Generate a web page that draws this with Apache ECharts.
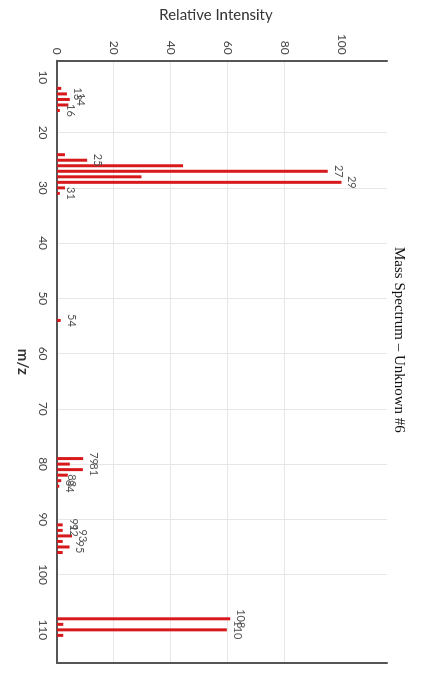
<!DOCTYPE html>
<html>
<head>
<meta charset="utf-8">
<script src="https://cdn.jsdelivr.net/npm/echarts@6/dist/echarts.min.js"></script>
<style>
  html, body { margin: 0; padding: 0; background: #ffffff; }
  #wrap { position: relative; width: 435px; height: 700px; overflow: hidden; background: #fff; }
  #chart { position: absolute; left: 435px; top: 0; width: 700px; height: 435px;
           transform-origin: 0 0; transform: rotate(90deg); }
</style>
</head>
<body>
<div id="wrap"><div id="chart"></div></div>
<script>
// m/z values of the peaks
var mzValues = [12, 13, 14, 15, 16, 24, 25, 26, 27, 28, 29, 30, 31, 54,
                79, 80, 81, 82, 83, 84, 91, 92, 93, 94, 95, 96, 108, 109, 110, 111];
// relative intensities (%)
var intensities = [1.5, 3.5, 4.5, 4.0, 1.0, 2.8, 10.6, 44.3, 95.2, 29.7, 100, 2.8, 1.0, 1.3,
                   9.2, 4.5, 9.1, 3.8, 1.5, 0.8, 2.0, 2.0, 5.3, 2.0, 4.4, 2.0, 60.9, 2.2, 59.7, 2.2];
// peaks that carry an m/z label
var labeledMz = [13, 14, 16, 25, 27, 29, 31, 54, 79, 81, 83, 84, 91, 92, 93, 95, 108, 110];
// tick labels
var mzTicks = [10, 20, 30, 40, 50, 60, 70, 80, 90, 100, 110];
var intensityTicks = [0, 20, 40, 60, 80, 100];

var chart = echarts.init(document.getElementById('chart'), null, { renderer: 'canvas' });

var seriesData = mzValues.map(function (m, i) {
  return {
    value: [m, intensities[i]],
    label: { show: labeledMz.indexOf(m) >= 0 }
  };
});

var axisFont = 'Lato, "Noto Sans", sans-serif';

chart.setOption({
  animation: false,
  backgroundColor: '#ffffff',
  title: {
    text: 'Mass Spectrum \u2013 Unknown #6',
    left: 247,
    top: 29,
    padding: 0,
    textStyle: {
      fontFamily: '"Liberation Serif", serif',
      fontSize: 15,
      fontWeight: 'normal',
      color: '#111'
    }
  },
  grid: { left: 57, right: 37, top: 48, bottom: 57, containLabel: false },
  xAxis: {
    type: 'value',
    min: 7,
    max: 116,
    name: 'm/z',
    nameLocation: 'middle',
    nameGap: 27,
    nameTextStyle: { fontFamily: axisFont, fontSize: 15, color: '#333', fontWeight: 'bold' },
    axisLine: { show: true, lineStyle: { color: '#555', width: 2 } },
    axisTick: { show: false, customValues: mzTicks },
    axisLabel: { customValues: mzTicks, margin: 8, fontFamily: axisFont, fontSize: 12, color: '#444' },
    splitLine: { show: true, showMinLine: false, showMaxLine: false, lineStyle: { color: '#e6e6e6', width: 1 } }
  },
  yAxis: [{
    type: 'value',
    min: 0,
    max: 116,
    name: 'Relative Intensity',
    nameLocation: 'middle',
    nameGap: 25,
    nameTextStyle: { fontFamily: axisFont, fontSize: 15, color: '#333', padding: [0, 12, 0, 0] },
    axisLine: { show: true, lineStyle: { color: '#555', width: 2 } },
    axisTick: { show: false, customValues: intensityTicks },
    axisLabel: { customValues: intensityTicks, margin: 6, fontFamily: axisFont, fontSize: 12, color: '#444' },
    splitLine: { show: true, showMinLine: false, showMaxLine: false, lineStyle: { color: '#e6e6e6', width: 1 } }
  }, {
    type: 'value',
    min: 0,
    max: 116,
    position: 'right',
    axisLine: { show: true, lineStyle: { color: '#555', width: 2 } },
    axisTick: { show: false },
    axisLabel: { show: false },
    splitLine: { show: false }
  }],
  series: [{
    type: 'bar',
    xAxisIndex: 0,
    yAxisIndex: 0,
    barWidth: 3,
    data: seriesData,
    itemStyle: { color: '#d7191c' },
    label: {
      position: 'top',
      distance: 5,
      fontFamily: axisFont,
      fontSize: 11,
      color: '#555',
      formatter: function (p) { return String(p.value[0]); }
    }
  }]
});
</script>
</body>
</html>
